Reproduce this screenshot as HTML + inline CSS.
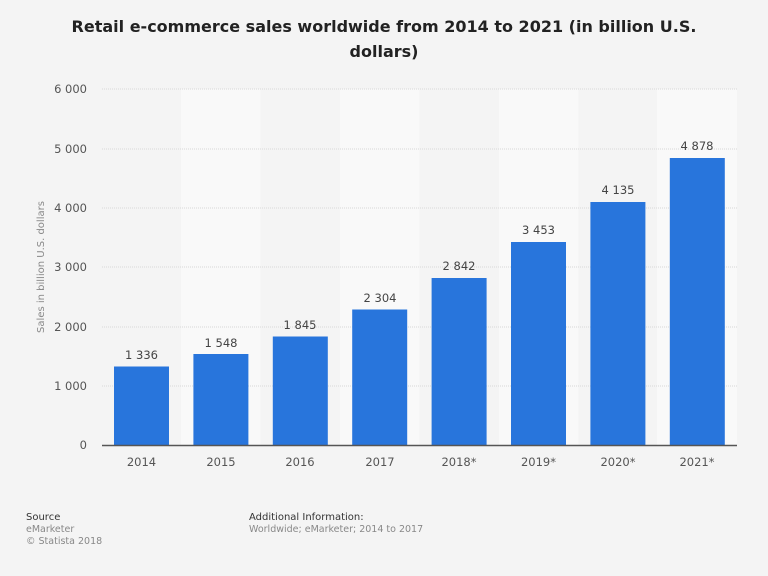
<!DOCTYPE html><html><head><style>html,body{margin:0;background:#f4f4f4;overflow:hidden;width:768px;height:576px;}svg{display:block;}</style></head><body>
<svg width="768" height="576" xmlns="http://www.w3.org/2000/svg" font-family="DejaVu Sans, Liberation Sans, sans-serif">
<rect width="768" height="576" fill="#f4f4f4"/>
<text x="384" y="32" text-anchor="middle" font-size="16" font-weight="bold" fill="#222">Retail e-commerce sales worldwide from 2014 to 2021 (in billion U.S.</text>
<text x="384" y="57" text-anchor="middle" font-size="16" font-weight="bold" fill="#222">dollars)</text>
<g fill="#f9f9f9">
<rect x="181" y="89" width="79.4" height="356"/><rect x="340" y="89" width="79.4" height="356"/><rect x="499" y="89" width="79.4" height="356"/><rect x="657" y="89" width="80" height="356"/>
</g>
<g stroke="#d8d8d8" stroke-dasharray="1,1">
<line x1="102" x2="737" y1="89" y2="89"/><line x1="102" x2="737" y1="149" y2="149"/><line x1="102" x2="737" y1="208" y2="208"/><line x1="102" x2="737" y1="267" y2="267"/><line x1="102" x2="737" y1="327" y2="327"/><line x1="102" x2="737" y1="386" y2="386"/>
</g>
<g font-size="11.5" fill="#555" text-anchor="end">
<text x="87" y="93">6 000</text><text x="87" y="153">5 000</text><text x="87" y="212">4 000</text><text x="87" y="271">3 000</text><text x="87" y="331">2 000</text><text x="87" y="390">1 000</text><text x="87" y="449">0</text>
</g>
<text transform="translate(44,267) rotate(-90)" text-anchor="middle" font-size="10" fill="#888">Sales in billion U.S. dollars</text>
<g fill="#2875dc">
<rect x="114" y="366.5" width="55" height="78.5"/>
<rect x="193.4" y="354" width="55" height="91"/>
<rect x="272.8" y="336.5" width="55" height="108.5"/>
<rect x="352.2" y="309.5" width="55" height="135.5"/>
<rect x="431.6" y="278" width="55" height="167"/>
<rect x="511" y="242" width="55" height="203"/>
<rect x="590.4" y="202" width="55" height="243"/>
<rect x="669.8" y="158" width="55" height="287"/>
</g>
<line x1="102" x2="737" y1="445.5" y2="445.5" stroke="#555" stroke-width="1.5"/>
<g font-size="11.5" fill="#444" text-anchor="middle">
<text x="141.5" y="359">1 336</text><text x="221" y="347">1 548</text><text x="300" y="329">1 845</text><text x="380" y="302">2 304</text><text x="459" y="270">2 842</text><text x="538.5" y="234">3 453</text><text x="618" y="194">4 135</text><text x="697" y="150">4 878</text>
</g>
<g font-size="11.5" fill="#555" text-anchor="middle">
<text x="141.5" y="466">2014</text><text x="221" y="466">2015</text><text x="300" y="466">2016</text><text x="380" y="466">2017</text><text x="459" y="466">2018*</text><text x="538.5" y="466">2019*</text><text x="618" y="466">2020*</text><text x="697" y="466">2021*</text>
</g>
<text x="26" y="520" font-size="10" fill="#333">Source</text>
<text x="26" y="532" font-size="9.5" fill="#888">eMarketer</text>
<text x="26" y="544" font-size="9.5" fill="#888">© Statista 2018</text>
<text x="249" y="520" font-size="10" fill="#333">Additional Information:</text>
<text x="249" y="532" font-size="9.5" fill="#888">Worldwide; eMarketer; 2014 to 2017</text>
</svg>
</body></html>
